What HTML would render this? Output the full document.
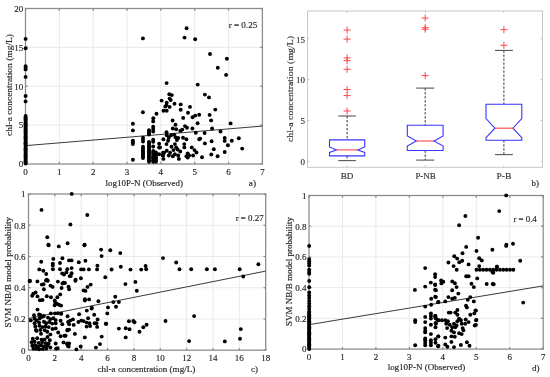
<!DOCTYPE html>
<html><head><meta charset="utf-8"><style>
html,body{margin:0;padding:0;background:#fff;width:550px;height:377px;overflow:hidden}
svg{display:block;font-family:'Liberation Serif', 'Times New Roman', serif;filter:blur(0.3px)}
</style></head><body>
<svg width="550" height="377" viewBox="0 0 550 377">
<rect width="550" height="377" fill="#fff"/>
<line x1="59.34" y1="8.5" x2="59.34" y2="164" stroke="#e4e4e4" stroke-width="0.8"/>
<line x1="93.19" y1="8.5" x2="93.19" y2="164" stroke="#e4e4e4" stroke-width="0.8"/>
<line x1="127.03" y1="8.5" x2="127.03" y2="164" stroke="#e4e4e4" stroke-width="0.8"/>
<line x1="160.87" y1="8.5" x2="160.87" y2="164" stroke="#e4e4e4" stroke-width="0.8"/>
<line x1="194.71" y1="8.5" x2="194.71" y2="164" stroke="#e4e4e4" stroke-width="0.8"/>
<line x1="228.56" y1="8.5" x2="228.56" y2="164" stroke="#e4e4e4" stroke-width="0.8"/>
<line x1="25.5" y1="125.12" x2="262.4" y2="125.12" stroke="#e4e4e4" stroke-width="0.8"/>
<line x1="25.5" y1="86.25" x2="262.4" y2="86.25" stroke="#e4e4e4" stroke-width="0.8"/>
<line x1="25.5" y1="47.38" x2="262.4" y2="47.38" stroke="#e4e4e4" stroke-width="0.8"/>
<rect x="25.5" y="8.5" width="236.9" height="155.5" fill="none" stroke="#8a8a8a" stroke-width="1.25"/>
<line x1="25.5" y1="164" x2="25.5" y2="161.8" stroke="#8a8a8a" stroke-width="1.25"/>
<line x1="25.5" y1="8.5" x2="25.5" y2="10.7" stroke="#8a8a8a" stroke-width="1.25"/>
<line x1="59.34" y1="164" x2="59.34" y2="161.8" stroke="#8a8a8a" stroke-width="1.25"/>
<line x1="59.34" y1="8.5" x2="59.34" y2="10.7" stroke="#8a8a8a" stroke-width="1.25"/>
<line x1="93.19" y1="164" x2="93.19" y2="161.8" stroke="#8a8a8a" stroke-width="1.25"/>
<line x1="93.19" y1="8.5" x2="93.19" y2="10.7" stroke="#8a8a8a" stroke-width="1.25"/>
<line x1="127.03" y1="164" x2="127.03" y2="161.8" stroke="#8a8a8a" stroke-width="1.25"/>
<line x1="127.03" y1="8.5" x2="127.03" y2="10.7" stroke="#8a8a8a" stroke-width="1.25"/>
<line x1="160.87" y1="164" x2="160.87" y2="161.8" stroke="#8a8a8a" stroke-width="1.25"/>
<line x1="160.87" y1="8.5" x2="160.87" y2="10.7" stroke="#8a8a8a" stroke-width="1.25"/>
<line x1="194.71" y1="164" x2="194.71" y2="161.8" stroke="#8a8a8a" stroke-width="1.25"/>
<line x1="194.71" y1="8.5" x2="194.71" y2="10.7" stroke="#8a8a8a" stroke-width="1.25"/>
<line x1="228.56" y1="164" x2="228.56" y2="161.8" stroke="#8a8a8a" stroke-width="1.25"/>
<line x1="228.56" y1="8.5" x2="228.56" y2="10.7" stroke="#8a8a8a" stroke-width="1.25"/>
<line x1="262.4" y1="164" x2="262.4" y2="161.8" stroke="#8a8a8a" stroke-width="1.25"/>
<line x1="262.4" y1="8.5" x2="262.4" y2="10.7" stroke="#8a8a8a" stroke-width="1.25"/>
<line x1="25.5" y1="164" x2="27.7" y2="164" stroke="#8a8a8a" stroke-width="1.25"/>
<line x1="262.4" y1="164" x2="260.2" y2="164" stroke="#8a8a8a" stroke-width="1.25"/>
<line x1="25.5" y1="125.12" x2="27.7" y2="125.12" stroke="#8a8a8a" stroke-width="1.25"/>
<line x1="262.4" y1="125.12" x2="260.2" y2="125.12" stroke="#8a8a8a" stroke-width="1.25"/>
<line x1="25.5" y1="86.25" x2="27.7" y2="86.25" stroke="#8a8a8a" stroke-width="1.25"/>
<line x1="262.4" y1="86.25" x2="260.2" y2="86.25" stroke="#8a8a8a" stroke-width="1.25"/>
<line x1="25.5" y1="47.38" x2="27.7" y2="47.38" stroke="#8a8a8a" stroke-width="1.25"/>
<line x1="262.4" y1="47.38" x2="260.2" y2="47.38" stroke="#8a8a8a" stroke-width="1.25"/>
<line x1="25.5" y1="8.5" x2="27.7" y2="8.5" stroke="#8a8a8a" stroke-width="1.25"/>
<line x1="262.4" y1="8.5" x2="260.2" y2="8.5" stroke="#8a8a8a" stroke-width="1.25"/>
<line x1="25" y1="145.7" x2="262.3" y2="126.1" stroke="#3a3a3a" stroke-width="1.0"/>
<g fill="#000"><circle cx="142.9" cy="38.4" r="1.95"/><circle cx="186.6" cy="28.3" r="1.95"/><circle cx="184.5" cy="37.6" r="1.95"/><circle cx="195.2" cy="39.2" r="1.95"/><circle cx="210" cy="54" r="1.95"/><circle cx="226.9" cy="58.8" r="1.95"/><circle cx="217.8" cy="67.8" r="1.95"/><circle cx="166.6" cy="83.1" r="1.95"/><circle cx="197.7" cy="84.6" r="1.95"/><circle cx="169.3" cy="94.2" r="1.95"/><circle cx="171.8" cy="95.1" r="1.95"/><circle cx="169.6" cy="98.6" r="1.95"/><circle cx="170.7" cy="100" r="1.95"/><circle cx="161.6" cy="100.6" r="1.95"/><circle cx="166.7" cy="102.7" r="1.95"/><circle cx="174.5" cy="103.7" r="1.95"/><circle cx="180.7" cy="104.4" r="1.95"/><circle cx="166.4" cy="105.1" r="1.95"/><circle cx="165.3" cy="106.6" r="1.95"/><circle cx="169.6" cy="106.9" r="1.95"/><circle cx="190" cy="106.9" r="1.95"/><circle cx="180.7" cy="109.8" r="1.95"/><circle cx="163.5" cy="110.7" r="1.95"/><circle cx="166.7" cy="110.8" r="1.95"/><circle cx="142.9" cy="112.2" r="1.95"/><circle cx="156.5" cy="113.8" r="1.95"/><circle cx="188" cy="112.7" r="1.95"/><circle cx="153.3" cy="118.3" r="1.95"/><circle cx="183.2" cy="117.9" r="1.95"/><circle cx="192.5" cy="117.3" r="1.95"/><circle cx="195.2" cy="115.6" r="1.95"/><circle cx="199.2" cy="114.8" r="1.95"/><circle cx="226.1" cy="74.9" r="1.95"/><circle cx="204.9" cy="94.6" r="1.95"/><circle cx="209" cy="97.4" r="1.95"/><circle cx="215.3" cy="109.6" r="1.95"/><circle cx="209.6" cy="114.9" r="1.95"/><circle cx="211.1" cy="120.4" r="1.95"/><circle cx="172.6" cy="120.5" r="1.95"/><circle cx="197.6" cy="123.2" r="1.95"/><circle cx="175.5" cy="124.7" r="1.95"/><circle cx="185" cy="126.1" r="1.95"/><circle cx="187" cy="127.8" r="1.95"/><circle cx="172.8" cy="128.5" r="1.95"/><circle cx="176.2" cy="129.2" r="1.95"/><circle cx="192.4" cy="128.5" r="1.95"/><circle cx="182.3" cy="129.6" r="1.95"/><circle cx="180.3" cy="130.9" r="1.95"/><circle cx="195.8" cy="132.8" r="1.95"/><circle cx="166.5" cy="132.3" r="1.95"/><circle cx="166.8" cy="135.3" r="1.95"/><circle cx="171.1" cy="135.3" r="1.95"/><circle cx="174.2" cy="134.6" r="1.95"/><circle cx="168.8" cy="137.7" r="1.95"/><circle cx="175.5" cy="137.3" r="1.95"/><circle cx="178.2" cy="138" r="1.95"/><circle cx="183" cy="137.7" r="1.95"/><circle cx="186.4" cy="139.3" r="1.95"/><circle cx="163.4" cy="139.3" r="1.95"/><circle cx="168.1" cy="140.7" r="1.95"/><circle cx="176.9" cy="140" r="1.95"/><circle cx="199.2" cy="139.3" r="1.95"/><circle cx="166.5" cy="144.1" r="1.95"/><circle cx="174.9" cy="144.1" r="1.95"/><circle cx="184.3" cy="144.1" r="1.95"/><circle cx="171.5" cy="146.8" r="1.95"/><circle cx="176.2" cy="147.4" r="1.95"/><circle cx="184.3" cy="147.4" r="1.95"/><circle cx="191.8" cy="147.4" r="1.95"/><circle cx="160" cy="147.4" r="1.95"/><circle cx="166.8" cy="150.8" r="1.95"/><circle cx="173.5" cy="150.1" r="1.95"/><circle cx="177.6" cy="149.5" r="1.95"/><circle cx="180.3" cy="151.5" r="1.95"/><circle cx="194.5" cy="150.1" r="1.95"/><circle cx="196.5" cy="152.5" r="1.95"/><circle cx="164.1" cy="152.8" r="1.95"/><circle cx="170.1" cy="152.8" r="1.95"/><circle cx="174.9" cy="154.2" r="1.95"/><circle cx="187.7" cy="153.5" r="1.95"/><circle cx="162.7" cy="155.5" r="1.95"/><circle cx="168.8" cy="155.5" r="1.95"/><circle cx="172.8" cy="156.2" r="1.95"/><circle cx="178.2" cy="155.5" r="1.95"/><circle cx="186.4" cy="156.2" r="1.95"/><circle cx="189.1" cy="155.5" r="1.95"/><circle cx="193.1" cy="155.5" r="1.95"/><circle cx="163.4" cy="158.9" r="1.95"/><circle cx="178.9" cy="158.9" r="1.95"/><circle cx="187.7" cy="157.6" r="1.95"/><circle cx="212.1" cy="128.5" r="1.95"/><circle cx="204.6" cy="133" r="1.95"/><circle cx="230.6" cy="123.4" r="1.95"/><circle cx="220.5" cy="131.5" r="1.95"/><circle cx="200.2" cy="138.6" r="1.95"/><circle cx="224.7" cy="137.9" r="1.95"/><circle cx="224.7" cy="140.9" r="1.95"/><circle cx="238.8" cy="138.2" r="1.95"/><circle cx="211.6" cy="141.2" r="1.95"/><circle cx="231.8" cy="140.7" r="1.95"/><circle cx="204.9" cy="143.4" r="1.95"/><circle cx="227.9" cy="145.2" r="1.95"/><circle cx="213.8" cy="149.3" r="1.95"/><circle cx="242.2" cy="148.6" r="1.95"/><circle cx="224.7" cy="152" r="1.95"/><circle cx="211.3" cy="154.5" r="1.95"/><circle cx="217.6" cy="156.3" r="1.95"/><circle cx="202" cy="157.2" r="1.95"/><circle cx="132.9" cy="123.8" r="1.95"/><circle cx="132.9" cy="130.4" r="1.95"/><circle cx="132.9" cy="140.6" r="1.95"/><circle cx="132.9" cy="142.3" r="1.95"/><circle cx="132.9" cy="144" r="1.95"/><circle cx="132.9" cy="159.8" r="1.95"/><circle cx="159.1" cy="143.7" r="1.95"/><circle cx="159.1" cy="147.5" r="1.95"/><circle cx="159.1" cy="154.3" r="1.95"/><circle cx="163" cy="152.8" r="1.95"/><circle cx="163" cy="155.5" r="1.95"/><circle cx="143" cy="137.6" r="1.95"/><circle cx="143" cy="139.6" r="1.95"/><circle cx="143" cy="141.6" r="1.95"/><circle cx="143" cy="146.8" r="1.95"/><circle cx="143" cy="148.4" r="1.95"/><circle cx="143" cy="150" r="1.95"/><circle cx="143" cy="151.6" r="1.95"/><circle cx="143" cy="153.2" r="1.95"/><circle cx="143" cy="154.8" r="1.95"/><circle cx="143" cy="156.4" r="1.95"/><circle cx="143" cy="158" r="1.95"/><circle cx="149" cy="130.2" r="1.95"/><circle cx="149" cy="131.67" r="1.95"/><circle cx="149" cy="133.13" r="1.95"/><circle cx="149" cy="134.6" r="1.95"/><circle cx="149" cy="141.9" r="1.95"/><circle cx="149" cy="143.32" r="1.95"/><circle cx="149" cy="144.74" r="1.95"/><circle cx="149" cy="146.16" r="1.95"/><circle cx="149" cy="147.59" r="1.95"/><circle cx="149" cy="149.01" r="1.95"/><circle cx="149" cy="150.43" r="1.95"/><circle cx="149" cy="151.85" r="1.95"/><circle cx="149" cy="153.27" r="1.95"/><circle cx="149" cy="154.69" r="1.95"/><circle cx="149" cy="156.11" r="1.95"/><circle cx="149" cy="157.54" r="1.95"/><circle cx="149" cy="158.96" r="1.95"/><circle cx="149" cy="160.38" r="1.95"/><circle cx="149" cy="161.8" r="1.95"/><circle cx="153.2" cy="121.4" r="1.95"/><circle cx="153.2" cy="126.8" r="1.95"/><circle cx="153.2" cy="129" r="1.95"/><circle cx="153.2" cy="131.5" r="1.95"/><circle cx="153.2" cy="139.7" r="1.95"/><circle cx="153.2" cy="141.7" r="1.95"/><circle cx="153.2" cy="146.5" r="1.95"/><circle cx="153.2" cy="151" r="1.95"/><circle cx="153.2" cy="152.54" r="1.95"/><circle cx="153.2" cy="154.09" r="1.95"/><circle cx="153.2" cy="155.63" r="1.95"/><circle cx="153.2" cy="157.17" r="1.95"/><circle cx="153.2" cy="158.71" r="1.95"/><circle cx="153.2" cy="160.26" r="1.95"/><circle cx="153.2" cy="161.8" r="1.95"/><circle cx="155.9" cy="152.5" r="1.95"/><circle cx="155.9" cy="154.05" r="1.95"/><circle cx="155.9" cy="155.6" r="1.95"/><circle cx="155.9" cy="157.15" r="1.95"/><circle cx="155.9" cy="158.7" r="1.95"/><circle cx="155.9" cy="160.25" r="1.95"/><circle cx="155.9" cy="161.8" r="1.95"/><circle cx="25.6" cy="38.9" r="1.95"/><circle cx="25.6" cy="48.2" r="1.95"/><circle cx="25.6" cy="66.3" r="1.95"/><circle cx="25.6" cy="68.1" r="1.95"/><circle cx="25.6" cy="69.4" r="1.95"/><circle cx="25.6" cy="76.9" r="1.95"/><circle cx="25.6" cy="96" r="1.95"/><circle cx="25.6" cy="101.4" r="1.95"/><circle cx="25.6" cy="116" r="1.95"/><circle cx="25.6" cy="117.19" r="1.95"/><circle cx="25.6" cy="118.38" r="1.95"/><circle cx="25.6" cy="119.57" r="1.95"/><circle cx="25.6" cy="120.76" r="1.95"/><circle cx="25.6" cy="121.95" r="1.95"/><circle cx="25.6" cy="123.14" r="1.95"/><circle cx="25.6" cy="124.33" r="1.95"/><circle cx="25.6" cy="125.52" r="1.95"/><circle cx="25.6" cy="126.71" r="1.95"/><circle cx="25.6" cy="127.9" r="1.95"/><circle cx="25.6" cy="129.09" r="1.95"/><circle cx="25.6" cy="130.28" r="1.95"/><circle cx="25.6" cy="131.47" r="1.95"/><circle cx="25.6" cy="132.66" r="1.95"/><circle cx="25.6" cy="133.85" r="1.95"/><circle cx="25.6" cy="135.04" r="1.95"/><circle cx="25.6" cy="136.23" r="1.95"/><circle cx="25.6" cy="137.42" r="1.95"/><circle cx="25.6" cy="138.61" r="1.95"/><circle cx="25.6" cy="139.8" r="1.95"/><circle cx="25.6" cy="140.99" r="1.95"/><circle cx="25.6" cy="142.18" r="1.95"/><circle cx="25.6" cy="143.37" r="1.95"/><circle cx="25.6" cy="144.56" r="1.95"/><circle cx="25.6" cy="145.75" r="1.95"/><circle cx="25.6" cy="146.94" r="1.95"/><circle cx="25.6" cy="148.13" r="1.95"/><circle cx="25.6" cy="149.32" r="1.95"/><circle cx="25.6" cy="150.51" r="1.95"/><circle cx="25.6" cy="151.7" r="1.95"/><circle cx="25.6" cy="152.89" r="1.95"/><circle cx="25.6" cy="154.08" r="1.95"/><circle cx="25.6" cy="155.27" r="1.95"/><circle cx="25.6" cy="156.46" r="1.95"/><circle cx="25.6" cy="157.65" r="1.95"/><circle cx="25.6" cy="158.84" r="1.95"/><circle cx="25.6" cy="160.03" r="1.95"/><circle cx="25.6" cy="161.22" r="1.95"/><circle cx="25.6" cy="162.41" r="1.95"/><circle cx="25.6" cy="163.6" r="1.95"/></g>
<text x="25.5" y="175" text-anchor="middle" font-size="9" fill="#262626" stroke="#262626" stroke-width="0.16">0</text>
<text x="59.34" y="175" text-anchor="middle" font-size="9" fill="#262626" stroke="#262626" stroke-width="0.16">1</text>
<text x="93.19" y="175" text-anchor="middle" font-size="9" fill="#262626" stroke="#262626" stroke-width="0.16">2</text>
<text x="127.03" y="175" text-anchor="middle" font-size="9" fill="#262626" stroke="#262626" stroke-width="0.16">3</text>
<text x="160.87" y="175" text-anchor="middle" font-size="9" fill="#262626" stroke="#262626" stroke-width="0.16">4</text>
<text x="194.71" y="175" text-anchor="middle" font-size="9" fill="#262626" stroke="#262626" stroke-width="0.16">5</text>
<text x="228.56" y="175" text-anchor="middle" font-size="9" fill="#262626" stroke="#262626" stroke-width="0.16">6</text>
<text x="262.4" y="175" text-anchor="middle" font-size="9" fill="#262626" stroke="#262626" stroke-width="0.16">7</text>
<text x="23.2" y="167.3" text-anchor="end" font-size="9" fill="#262626" stroke="#262626" stroke-width="0.16">0</text>
<text x="23.2" y="128.43" text-anchor="end" font-size="9" fill="#262626" stroke="#262626" stroke-width="0.16">5</text>
<text x="23.2" y="89.55" text-anchor="end" font-size="9" fill="#262626" stroke="#262626" stroke-width="0.16">10</text>
<text x="23.2" y="50.67" text-anchor="end" font-size="9" fill="#262626" stroke="#262626" stroke-width="0.16">15</text>
<text x="23.2" y="11.8" text-anchor="end" font-size="9" fill="#262626" stroke="#262626" stroke-width="0.16">20</text>
<text x="144.3" y="185.8" text-anchor="middle" font-size="9" fill="#262626" stroke="#262626" stroke-width="0.16" textLength="77.5" lengthAdjust="spacingAndGlyphs">log10P-N (Observed)</text>
<text x="0" y="0" text-anchor="middle" font-size="9" fill="#262626" stroke="#262626" stroke-width="0.16" textLength="102" lengthAdjust="spacingAndGlyphs" transform="translate(12.2 85) rotate(-90)">chl-a concentration (mg/L)</text>
<text x="228.7" y="27.9" text-anchor="start" font-size="9" fill="#262626" stroke="#262626" stroke-width="0.16" textLength="28.5" lengthAdjust="spacingAndGlyphs">r = 0.25</text>
<text x="248.8" y="185.9" text-anchor="start" font-size="9" fill="#262626" stroke="#262626" stroke-width="0.16" textLength="7.2" lengthAdjust="spacingAndGlyphs">a)</text>
<rect x="307.5" y="11" width="235.0" height="156.3" fill="none" stroke="#c8c8c8" stroke-width="1"/>
<line x1="307.5" y1="161.5" x2="309.5" y2="161.5" stroke="#c8c8c8" stroke-width="1"/>
<line x1="542.5" y1="161.5" x2="540.5" y2="161.5" stroke="#c8c8c8" stroke-width="1"/>
<line x1="307.5" y1="120.56" x2="309.5" y2="120.56" stroke="#c8c8c8" stroke-width="1"/>
<line x1="542.5" y1="120.56" x2="540.5" y2="120.56" stroke="#c8c8c8" stroke-width="1"/>
<line x1="307.5" y1="79.63" x2="309.5" y2="79.63" stroke="#c8c8c8" stroke-width="1"/>
<line x1="542.5" y1="79.63" x2="540.5" y2="79.63" stroke="#c8c8c8" stroke-width="1"/>
<line x1="307.5" y1="38.7" x2="309.5" y2="38.7" stroke="#c8c8c8" stroke-width="1"/>
<line x1="542.5" y1="38.7" x2="540.5" y2="38.7" stroke="#c8c8c8" stroke-width="1"/>
<line x1="347.1" y1="167.3" x2="347.1" y2="165.3" stroke="#c8c8c8" stroke-width="1"/>
<line x1="347.1" y1="11" x2="347.1" y2="13" stroke="#c8c8c8" stroke-width="1"/>
<line x1="425.2" y1="167.3" x2="425.2" y2="165.3" stroke="#c8c8c8" stroke-width="1"/>
<line x1="425.2" y1="11" x2="425.2" y2="13" stroke="#c8c8c8" stroke-width="1"/>
<line x1="503.8" y1="167.3" x2="503.8" y2="165.3" stroke="#c8c8c8" stroke-width="1"/>
<line x1="503.8" y1="11" x2="503.8" y2="13" stroke="#c8c8c8" stroke-width="1"/>
<line x1="347.1" y1="116" x2="347.1" y2="139.9" stroke="#333" stroke-width="1" stroke-dasharray="2.4 1.6"/>
<line x1="347.1" y1="155.9" x2="347.1" y2="160.6" stroke="#333" stroke-width="1" stroke-dasharray="2.4 1.6"/>
<line x1="338.3" y1="116" x2="355.9" y2="116" stroke="#555" stroke-width="1.1"/>
<line x1="338.3" y1="160.6" x2="355.9" y2="160.6" stroke="#555" stroke-width="1.1"/>
<polygon points="329.5,139.9 364.7,139.9 364.7,147 357.7,149.9 364.7,152.5 364.7,155.9 329.5,155.9 329.5,152.5 336.5,149.9 329.5,147" fill="none" stroke="#3535ff" stroke-width="1.1"/>
<line x1="336.5" y1="149.9" x2="357.7" y2="149.9" stroke="#ff4848" stroke-width="1.1"/>
<line x1="343.6" y1="30.1" x2="350.6" y2="30.1" stroke="#ff4848" stroke-width="1.0"/>
<line x1="347.1" y1="26.6" x2="347.1" y2="33.6" stroke="#ff4848" stroke-width="1.0"/>
<line x1="343.6" y1="39.1" x2="350.6" y2="39.1" stroke="#ff4848" stroke-width="1.0"/>
<line x1="347.1" y1="35.6" x2="347.1" y2="42.6" stroke="#ff4848" stroke-width="1.0"/>
<line x1="343.6" y1="57.9" x2="350.6" y2="57.9" stroke="#ff4848" stroke-width="1.0"/>
<line x1="347.1" y1="54.4" x2="347.1" y2="61.4" stroke="#ff4848" stroke-width="1.0"/>
<line x1="343.6" y1="60.6" x2="350.6" y2="60.6" stroke="#ff4848" stroke-width="1.0"/>
<line x1="347.1" y1="57.1" x2="347.1" y2="64.1" stroke="#ff4848" stroke-width="1.0"/>
<line x1="343.6" y1="69.3" x2="350.6" y2="69.3" stroke="#ff4848" stroke-width="1.0"/>
<line x1="347.1" y1="65.8" x2="347.1" y2="72.8" stroke="#ff4848" stroke-width="1.0"/>
<line x1="343.6" y1="89.5" x2="350.6" y2="89.5" stroke="#ff4848" stroke-width="1.0"/>
<line x1="347.1" y1="86" x2="347.1" y2="93" stroke="#ff4848" stroke-width="1.0"/>
<line x1="343.6" y1="95.6" x2="350.6" y2="95.6" stroke="#ff4848" stroke-width="1.0"/>
<line x1="347.1" y1="92.1" x2="347.1" y2="99.1" stroke="#ff4848" stroke-width="1.0"/>
<line x1="343.6" y1="111" x2="350.6" y2="111" stroke="#ff4848" stroke-width="1.0"/>
<line x1="347.1" y1="107.5" x2="347.1" y2="114.5" stroke="#ff4848" stroke-width="1.0"/>
<line x1="425.2" y1="88.1" x2="425.2" y2="125.3" stroke="#333" stroke-width="1" stroke-dasharray="2.4 1.6"/>
<line x1="425.2" y1="150.5" x2="425.2" y2="160.1" stroke="#333" stroke-width="1" stroke-dasharray="2.4 1.6"/>
<line x1="416.25" y1="88.1" x2="434.15" y2="88.1" stroke="#555" stroke-width="1.1"/>
<line x1="416.25" y1="160.1" x2="434.15" y2="160.1" stroke="#555" stroke-width="1.1"/>
<polygon points="407.3,125.3 443.1,125.3 443.1,135.9 434,141 443.1,146 443.1,150.5 407.3,150.5 407.3,146 416.4,141 407.3,135.9" fill="none" stroke="#3535ff" stroke-width="1.1"/>
<line x1="416.4" y1="141" x2="434" y2="141" stroke="#ff4848" stroke-width="1.1"/>
<line x1="421.7" y1="18.1" x2="428.7" y2="18.1" stroke="#ff4848" stroke-width="1.0"/>
<line x1="425.2" y1="14.6" x2="425.2" y2="21.6" stroke="#ff4848" stroke-width="1.0"/>
<line x1="421.7" y1="27.7" x2="428.7" y2="27.7" stroke="#ff4848" stroke-width="1.0"/>
<line x1="425.2" y1="24.2" x2="425.2" y2="31.2" stroke="#ff4848" stroke-width="1.0"/>
<line x1="421.7" y1="29.2" x2="428.7" y2="29.2" stroke="#ff4848" stroke-width="1.0"/>
<line x1="425.2" y1="25.7" x2="425.2" y2="32.7" stroke="#ff4848" stroke-width="1.0"/>
<line x1="421.7" y1="75.6" x2="428.7" y2="75.6" stroke="#ff4848" stroke-width="1.0"/>
<line x1="425.2" y1="72.1" x2="425.2" y2="79.1" stroke="#ff4848" stroke-width="1.0"/>
<line x1="503.9" y1="50.4" x2="503.9" y2="104.3" stroke="#333" stroke-width="1" stroke-dasharray="2.4 1.6"/>
<line x1="503.9" y1="140.2" x2="503.9" y2="154.6" stroke="#333" stroke-width="1" stroke-dasharray="2.4 1.6"/>
<line x1="494.95" y1="50.4" x2="512.85" y2="50.4" stroke="#555" stroke-width="1.1"/>
<line x1="494.95" y1="154.6" x2="512.85" y2="154.6" stroke="#555" stroke-width="1.1"/>
<polygon points="486,104.3 521.8,104.3 521.8,118.5 512.9,128.2 521.8,137.6 521.8,140.2 486,140.2 486,137.6 494.9,128.2 486,118.5" fill="none" stroke="#3535ff" stroke-width="1.1"/>
<line x1="494.9" y1="128.2" x2="512.9" y2="128.2" stroke="#ff4848" stroke-width="1.1"/>
<line x1="500.4" y1="29.7" x2="507.4" y2="29.7" stroke="#ff4848" stroke-width="1.0"/>
<line x1="503.9" y1="26.2" x2="503.9" y2="33.2" stroke="#ff4848" stroke-width="1.0"/>
<line x1="500.4" y1="45.3" x2="507.4" y2="45.3" stroke="#ff4848" stroke-width="1.0"/>
<line x1="503.9" y1="41.8" x2="503.9" y2="48.8" stroke="#ff4848" stroke-width="1.0"/>
<text x="304.9" y="165.3" text-anchor="end" font-size="9" fill="#333" stroke="#333" stroke-width="0.16">0</text>
<text x="304.9" y="124.36" text-anchor="end" font-size="9" fill="#333" stroke="#333" stroke-width="0.16">5</text>
<text x="304.9" y="83.43" text-anchor="end" font-size="9" fill="#333" stroke="#333" stroke-width="0.16">10</text>
<text x="304.9" y="42.5" text-anchor="end" font-size="9" fill="#333" stroke="#333" stroke-width="0.16">15</text>
<text x="347" y="179.1" text-anchor="middle" font-size="9" fill="#333" stroke="#333" stroke-width="0.16" textLength="12.7" lengthAdjust="spacingAndGlyphs">BD</text>
<text x="425.6" y="179.1" text-anchor="middle" font-size="9" fill="#333" stroke="#333" stroke-width="0.16" textLength="20.4" lengthAdjust="spacingAndGlyphs">P-NB</text>
<text x="504" y="179.1" text-anchor="middle" font-size="9" fill="#333" stroke="#333" stroke-width="0.16" textLength="15" lengthAdjust="spacingAndGlyphs">P-B</text>
<text x="0" y="0" text-anchor="middle" font-size="9" fill="#333" stroke="#333" stroke-width="0.16" textLength="106" lengthAdjust="spacingAndGlyphs" transform="translate(292.8 89) rotate(-90)">chl-a concentration (mg/L)</text>
<text x="531.6" y="185.5" text-anchor="start" font-size="9" fill="#262626" stroke="#262626" stroke-width="0.16" textLength="7.4" lengthAdjust="spacingAndGlyphs">b)</text>
<line x1="54.86" y1="194" x2="54.86" y2="350.2" stroke="#e4e4e4" stroke-width="0.8"/>
<line x1="81.21" y1="194" x2="81.21" y2="350.2" stroke="#e4e4e4" stroke-width="0.8"/>
<line x1="107.57" y1="194" x2="107.57" y2="350.2" stroke="#e4e4e4" stroke-width="0.8"/>
<line x1="133.92" y1="194" x2="133.92" y2="350.2" stroke="#e4e4e4" stroke-width="0.8"/>
<line x1="160.28" y1="194" x2="160.28" y2="350.2" stroke="#e4e4e4" stroke-width="0.8"/>
<line x1="186.63" y1="194" x2="186.63" y2="350.2" stroke="#e4e4e4" stroke-width="0.8"/>
<line x1="212.99" y1="194" x2="212.99" y2="350.2" stroke="#e4e4e4" stroke-width="0.8"/>
<line x1="239.34" y1="194" x2="239.34" y2="350.2" stroke="#e4e4e4" stroke-width="0.8"/>
<line x1="28.5" y1="318.96" x2="265.7" y2="318.96" stroke="#e4e4e4" stroke-width="0.8"/>
<line x1="28.5" y1="287.72" x2="265.7" y2="287.72" stroke="#e4e4e4" stroke-width="0.8"/>
<line x1="28.5" y1="256.48" x2="265.7" y2="256.48" stroke="#e4e4e4" stroke-width="0.8"/>
<line x1="28.5" y1="225.24" x2="265.7" y2="225.24" stroke="#e4e4e4" stroke-width="0.8"/>
<rect x="28.5" y="194" width="237.2" height="156.2" fill="none" stroke="#8a8a8a" stroke-width="1.25"/>
<line x1="28.5" y1="350.2" x2="28.5" y2="348" stroke="#8a8a8a" stroke-width="1.25"/>
<line x1="28.5" y1="194" x2="28.5" y2="196.2" stroke="#8a8a8a" stroke-width="1.25"/>
<line x1="54.86" y1="350.2" x2="54.86" y2="348" stroke="#8a8a8a" stroke-width="1.25"/>
<line x1="54.86" y1="194" x2="54.86" y2="196.2" stroke="#8a8a8a" stroke-width="1.25"/>
<line x1="81.21" y1="350.2" x2="81.21" y2="348" stroke="#8a8a8a" stroke-width="1.25"/>
<line x1="81.21" y1="194" x2="81.21" y2="196.2" stroke="#8a8a8a" stroke-width="1.25"/>
<line x1="107.57" y1="350.2" x2="107.57" y2="348" stroke="#8a8a8a" stroke-width="1.25"/>
<line x1="107.57" y1="194" x2="107.57" y2="196.2" stroke="#8a8a8a" stroke-width="1.25"/>
<line x1="133.92" y1="350.2" x2="133.92" y2="348" stroke="#8a8a8a" stroke-width="1.25"/>
<line x1="133.92" y1="194" x2="133.92" y2="196.2" stroke="#8a8a8a" stroke-width="1.25"/>
<line x1="160.28" y1="350.2" x2="160.28" y2="348" stroke="#8a8a8a" stroke-width="1.25"/>
<line x1="160.28" y1="194" x2="160.28" y2="196.2" stroke="#8a8a8a" stroke-width="1.25"/>
<line x1="186.63" y1="350.2" x2="186.63" y2="348" stroke="#8a8a8a" stroke-width="1.25"/>
<line x1="186.63" y1="194" x2="186.63" y2="196.2" stroke="#8a8a8a" stroke-width="1.25"/>
<line x1="212.99" y1="350.2" x2="212.99" y2="348" stroke="#8a8a8a" stroke-width="1.25"/>
<line x1="212.99" y1="194" x2="212.99" y2="196.2" stroke="#8a8a8a" stroke-width="1.25"/>
<line x1="239.34" y1="350.2" x2="239.34" y2="348" stroke="#8a8a8a" stroke-width="1.25"/>
<line x1="239.34" y1="194" x2="239.34" y2="196.2" stroke="#8a8a8a" stroke-width="1.25"/>
<line x1="265.7" y1="350.2" x2="265.7" y2="348" stroke="#8a8a8a" stroke-width="1.25"/>
<line x1="265.7" y1="194" x2="265.7" y2="196.2" stroke="#8a8a8a" stroke-width="1.25"/>
<line x1="28.5" y1="350.2" x2="30.7" y2="350.2" stroke="#8a8a8a" stroke-width="1.25"/>
<line x1="265.7" y1="350.2" x2="263.5" y2="350.2" stroke="#8a8a8a" stroke-width="1.25"/>
<line x1="28.5" y1="318.96" x2="30.7" y2="318.96" stroke="#8a8a8a" stroke-width="1.25"/>
<line x1="265.7" y1="318.96" x2="263.5" y2="318.96" stroke="#8a8a8a" stroke-width="1.25"/>
<line x1="28.5" y1="287.72" x2="30.7" y2="287.72" stroke="#8a8a8a" stroke-width="1.25"/>
<line x1="265.7" y1="287.72" x2="263.5" y2="287.72" stroke="#8a8a8a" stroke-width="1.25"/>
<line x1="28.5" y1="256.48" x2="30.7" y2="256.48" stroke="#8a8a8a" stroke-width="1.25"/>
<line x1="265.7" y1="256.48" x2="263.5" y2="256.48" stroke="#8a8a8a" stroke-width="1.25"/>
<line x1="28.5" y1="225.24" x2="30.7" y2="225.24" stroke="#8a8a8a" stroke-width="1.25"/>
<line x1="265.7" y1="225.24" x2="263.5" y2="225.24" stroke="#8a8a8a" stroke-width="1.25"/>
<line x1="28.5" y1="194" x2="30.7" y2="194" stroke="#8a8a8a" stroke-width="1.25"/>
<line x1="265.7" y1="194" x2="263.5" y2="194" stroke="#8a8a8a" stroke-width="1.25"/>
<line x1="28" y1="318.5" x2="265.7" y2="271.1" stroke="#3a3a3a" stroke-width="1.0"/>
<g fill="#000"><circle cx="71.7" cy="193.9" r="1.95"/><circle cx="41.5" cy="209.9" r="1.95"/><circle cx="87.3" cy="215" r="1.95"/><circle cx="70.4" cy="224.5" r="1.95"/><circle cx="47.3" cy="237.2" r="1.95"/><circle cx="48.4" cy="244.7" r="1.95"/><circle cx="67.6" cy="243.3" r="1.95"/><circle cx="84.6" cy="244.7" r="1.95"/><circle cx="48.6" cy="245.3" r="1.95"/><circle cx="58.8" cy="246.4" r="1.95"/><circle cx="53.3" cy="258.9" r="1.95"/><circle cx="62.4" cy="258.3" r="1.95"/><circle cx="41.2" cy="261.8" r="1.95"/><circle cx="60" cy="263" r="1.95"/><circle cx="52.8" cy="263.6" r="1.95"/><circle cx="52.8" cy="265.5" r="1.95"/><circle cx="69" cy="260.4" r="1.95"/><circle cx="39.3" cy="269.4" r="1.95"/><circle cx="43.3" cy="270.8" r="1.95"/><circle cx="52.9" cy="269.2" r="1.95"/><circle cx="60" cy="269.2" r="1.95"/><circle cx="67.3" cy="269.2" r="1.95"/><circle cx="46.2" cy="274" r="1.95"/><circle cx="62.2" cy="273.4" r="1.95"/><circle cx="64" cy="274.5" r="1.95"/><circle cx="66.4" cy="272.4" r="1.95"/><circle cx="69.6" cy="276.1" r="1.95"/><circle cx="46.8" cy="279.8" r="1.95"/><circle cx="84.4" cy="245.3" r="1.95"/><circle cx="101.1" cy="249.6" r="1.95"/><circle cx="101.6" cy="256.1" r="1.95"/><circle cx="71.6" cy="260.4" r="1.95"/><circle cx="78.8" cy="262.3" r="1.95"/><circle cx="85.4" cy="260.7" r="1.95"/><circle cx="97.4" cy="265.8" r="1.95"/><circle cx="71.6" cy="268.1" r="1.95"/><circle cx="81.1" cy="269.4" r="1.95"/><circle cx="83.6" cy="269.4" r="1.95"/><circle cx="88.9" cy="269.4" r="1.95"/><circle cx="97.1" cy="269.4" r="1.95"/><circle cx="71.6" cy="273.2" r="1.95"/><circle cx="70.8" cy="276.1" r="1.95"/><circle cx="80.9" cy="278.2" r="1.95"/><circle cx="75.6" cy="279.8" r="1.95"/><circle cx="105.3" cy="277.2" r="1.95"/><circle cx="110.3" cy="250.2" r="1.95"/><circle cx="120.3" cy="253.1" r="1.95"/><circle cx="163" cy="258.1" r="1.95"/><circle cx="176.2" cy="262.5" r="1.95"/><circle cx="179.5" cy="269.2" r="1.95"/><circle cx="111.6" cy="269.5" r="1.95"/><circle cx="120.8" cy="266.7" r="1.95"/><circle cx="130.5" cy="269.6" r="1.95"/><circle cx="141.2" cy="269.6" r="1.95"/><circle cx="145.6" cy="266" r="1.95"/><circle cx="146.2" cy="269.2" r="1.95"/><circle cx="125.4" cy="284.1" r="1.95"/><circle cx="135.4" cy="281.9" r="1.95"/><circle cx="136.8" cy="290.7" r="1.95"/><circle cx="191.2" cy="269.3" r="1.95"/><circle cx="206.9" cy="269.3" r="1.95"/><circle cx="214.9" cy="269.3" r="1.95"/><circle cx="239.7" cy="269.3" r="1.95"/><circle cx="258.4" cy="264.3" r="1.95"/><circle cx="243.2" cy="276.5" r="1.95"/><circle cx="29.8" cy="281.2" r="1.95"/><circle cx="37.4" cy="281.4" r="1.95"/><circle cx="46" cy="280.5" r="1.95"/><circle cx="47.8" cy="280.8" r="1.95"/><circle cx="41.8" cy="284.6" r="1.95"/><circle cx="43.6" cy="284.3" r="1.95"/><circle cx="50.5" cy="285.6" r="1.95"/><circle cx="52.6" cy="286.9" r="1.95"/><circle cx="57.9" cy="281.6" r="1.95"/><circle cx="62.4" cy="283.5" r="1.95"/><circle cx="63.7" cy="282.6" r="1.95"/><circle cx="61.6" cy="288" r="1.95"/><circle cx="68.5" cy="286.7" r="1.95"/><circle cx="69.1" cy="289.3" r="1.95"/><circle cx="43.9" cy="289.3" r="1.95"/><circle cx="35.6" cy="292.5" r="1.95"/><circle cx="32.2" cy="295.7" r="1.95"/><circle cx="37.5" cy="296.4" r="1.95"/><circle cx="46.8" cy="296.2" r="1.95"/><circle cx="51" cy="297.3" r="1.95"/><circle cx="57.4" cy="297.3" r="1.95"/><circle cx="60.2" cy="294.4" r="1.95"/><circle cx="39.9" cy="300.2" r="1.95"/><circle cx="42.5" cy="300" r="1.95"/><circle cx="54.7" cy="300.5" r="1.95"/><circle cx="55.3" cy="302.6" r="1.95"/><circle cx="56.8" cy="303.7" r="1.95"/><circle cx="54.7" cy="305.3" r="1.95"/><circle cx="59" cy="304.7" r="1.95"/><circle cx="61.1" cy="305.6" r="1.95"/><circle cx="57.9" cy="313.2" r="1.95"/><circle cx="61.1" cy="313.7" r="1.95"/><circle cx="75.4" cy="280.8" r="1.95"/><circle cx="90.7" cy="284.6" r="1.95"/><circle cx="87.5" cy="286.9" r="1.95"/><circle cx="65" cy="283" r="1.95"/><circle cx="83.6" cy="290.4" r="1.95"/><circle cx="85.5" cy="290.9" r="1.95"/><circle cx="84.9" cy="299.2" r="1.95"/><circle cx="84.9" cy="300.5" r="1.95"/><circle cx="89.1" cy="299.4" r="1.95"/><circle cx="98.4" cy="301.3" r="1.95"/><circle cx="91.8" cy="307.7" r="1.95"/><circle cx="86.8" cy="310.6" r="1.95"/><circle cx="108" cy="307.4" r="1.95"/><circle cx="79.1" cy="314.3" r="1.95"/><circle cx="94.2" cy="314.8" r="1.95"/><circle cx="107.3" cy="313.4" r="1.95"/><circle cx="91.6" cy="308.6" r="1.95"/><circle cx="115.3" cy="296.8" r="1.95"/><circle cx="113.3" cy="302.1" r="1.95"/><circle cx="118.9" cy="302.1" r="1.95"/><circle cx="116" cy="306.8" r="1.95"/><circle cx="106.2" cy="323.7" r="1.95"/><circle cx="128.9" cy="321.2" r="1.95"/><circle cx="133.3" cy="321" r="1.95"/><circle cx="134.5" cy="322.2" r="1.95"/><circle cx="118.9" cy="328.6" r="1.95"/><circle cx="125.7" cy="328.3" r="1.95"/><circle cx="129.5" cy="329.3" r="1.95"/><circle cx="139.5" cy="331.8" r="1.95"/><circle cx="143.3" cy="327.2" r="1.95"/><circle cx="146.6" cy="324.8" r="1.95"/><circle cx="125.7" cy="337.4" r="1.95"/><circle cx="165.5" cy="321" r="1.95"/><circle cx="194.1" cy="316.1" r="1.95"/><circle cx="189.1" cy="341.1" r="1.95"/><circle cx="224.8" cy="341.4" r="1.95"/><circle cx="240.8" cy="329.1" r="1.95"/><circle cx="240" cy="338.7" r="1.95"/><circle cx="61.2" cy="313.6" r="1.95"/><circle cx="67.6" cy="316.2" r="1.95"/><circle cx="60.6" cy="320.8" r="1.95"/><circle cx="62.3" cy="324.3" r="1.95"/><circle cx="68.1" cy="322" r="1.95"/><circle cx="67.6" cy="329.6" r="1.95"/><circle cx="58.2" cy="332.5" r="1.95"/><circle cx="60.6" cy="336.2" r="1.95"/><circle cx="64.4" cy="335.7" r="1.95"/><circle cx="63.5" cy="342.4" r="1.95"/><circle cx="67" cy="344.1" r="1.95"/><circle cx="68.7" cy="346.5" r="1.95"/><circle cx="57.7" cy="348.2" r="1.95"/><circle cx="70.2" cy="320.6" r="1.95"/><circle cx="72.9" cy="319.4" r="1.95"/><circle cx="69.1" cy="324.3" r="1.95"/><circle cx="73.7" cy="324.9" r="1.95"/><circle cx="78.4" cy="322" r="1.95"/><circle cx="81.3" cy="320.6" r="1.95"/><circle cx="83.6" cy="321.1" r="1.95"/><circle cx="86.6" cy="322.6" r="1.95"/><circle cx="88.1" cy="318.3" r="1.95"/><circle cx="89.5" cy="323.2" r="1.95"/><circle cx="86.6" cy="326.6" r="1.95"/><circle cx="90.1" cy="326.1" r="1.95"/><circle cx="94.7" cy="323.2" r="1.95"/><circle cx="97.6" cy="319.4" r="1.95"/><circle cx="96.5" cy="323.2" r="1.95"/><circle cx="97.1" cy="326.9" r="1.95"/><circle cx="105.8" cy="323.7" r="1.95"/><circle cx="69.1" cy="329.6" r="1.95"/><circle cx="67.3" cy="330.4" r="1.95"/><circle cx="74.9" cy="333.9" r="1.95"/><circle cx="65.6" cy="335.7" r="1.95"/><circle cx="84.8" cy="337.4" r="1.95"/><circle cx="101.7" cy="336.6" r="1.95"/><circle cx="67.3" cy="343.5" r="1.95"/><circle cx="69.1" cy="343.5" r="1.95"/><circle cx="67.9" cy="345.9" r="1.95"/><circle cx="100" cy="344.1" r="1.95"/><circle cx="80.7" cy="346.5" r="1.95"/><circle cx="95.9" cy="347.6" r="1.95"/><circle cx="76.4" cy="349.4" r="1.95"/><circle cx="29.8" cy="280.7" r="1.95"/><circle cx="33.3" cy="293.8" r="1.95"/><circle cx="37.5" cy="309.6" r="1.95"/><circle cx="34" cy="315.3" r="1.95"/><circle cx="39.1" cy="314.4" r="1.95"/><circle cx="40.7" cy="315.3" r="1.95"/><circle cx="43.9" cy="316" r="1.95"/><circle cx="50.9" cy="313.4" r="1.95"/><circle cx="55" cy="313.4" r="1.95"/><circle cx="30.8" cy="320.4" r="1.95"/><circle cx="34.6" cy="318.8" r="1.95"/><circle cx="36.6" cy="320.4" r="1.95"/><circle cx="39.7" cy="318.5" r="1.95"/><circle cx="42" cy="316.9" r="1.95"/><circle cx="48" cy="317.6" r="1.95"/><circle cx="50.6" cy="319.1" r="1.95"/><circle cx="53.4" cy="318.2" r="1.95"/><circle cx="55.7" cy="320.1" r="1.95"/><circle cx="34.6" cy="323.3" r="1.95"/><circle cx="39.1" cy="322.6" r="1.95"/><circle cx="43.9" cy="321.7" r="1.95"/><circle cx="46.1" cy="323.3" r="1.95"/><circle cx="49.3" cy="322" r="1.95"/><circle cx="52.2" cy="323.6" r="1.95"/><circle cx="55.7" cy="323.3" r="1.95"/><circle cx="35.3" cy="326.5" r="1.95"/><circle cx="39.4" cy="325.8" r="1.95"/><circle cx="42.3" cy="327.1" r="1.95"/><circle cx="45.5" cy="326.5" r="1.95"/><circle cx="48.7" cy="327.1" r="1.95"/><circle cx="52.5" cy="329" r="1.95"/><circle cx="55.7" cy="328.4" r="1.95"/><circle cx="35.9" cy="330" r="1.95"/><circle cx="40.4" cy="330" r="1.95"/><circle cx="44.8" cy="330.3" r="1.95"/><circle cx="36.6" cy="330.9" r="1.95"/><circle cx="41" cy="333.8" r="1.95"/><circle cx="47.2" cy="331.8" r="1.95"/><circle cx="50.4" cy="334.4" r="1.95"/><circle cx="47.5" cy="337" r="1.95"/><circle cx="32.8" cy="338.8" r="1.95"/><circle cx="37.2" cy="338.2" r="1.95"/><circle cx="41.6" cy="339.6" r="1.95"/><circle cx="44.5" cy="339.4" r="1.95"/><circle cx="49.8" cy="340.2" r="1.95"/><circle cx="31.7" cy="342.3" r="1.95"/><circle cx="34.6" cy="341.7" r="1.95"/><circle cx="38.7" cy="342.9" r="1.95"/><circle cx="42.2" cy="342" r="1.95"/><circle cx="45.7" cy="343.2" r="1.95"/><circle cx="48.6" cy="343.5" r="1.95"/><circle cx="32.3" cy="345.8" r="1.95"/><circle cx="35.2" cy="345.2" r="1.95"/><circle cx="38.1" cy="346.4" r="1.95"/><circle cx="41" cy="345.2" r="1.95"/><circle cx="44" cy="346.4" r="1.95"/><circle cx="47.5" cy="345.8" r="1.95"/><circle cx="50.4" cy="347.5" r="1.95"/><circle cx="33.4" cy="348.7" r="1.95"/><circle cx="36.4" cy="348.7" r="1.95"/><circle cx="39.3" cy="349.3" r="1.95"/><circle cx="42.8" cy="349" r="1.95"/><circle cx="46.3" cy="348.7" r="1.95"/><circle cx="55.7" cy="343.5" r="1.95"/><circle cx="56.2" cy="348.7" r="1.95"/></g>
<text x="28.5" y="360.8" text-anchor="middle" font-size="9" fill="#262626" stroke="#262626" stroke-width="0.16">0</text>
<text x="54.86" y="360.8" text-anchor="middle" font-size="9" fill="#262626" stroke="#262626" stroke-width="0.16">2</text>
<text x="81.21" y="360.8" text-anchor="middle" font-size="9" fill="#262626" stroke="#262626" stroke-width="0.16">4</text>
<text x="107.57" y="360.8" text-anchor="middle" font-size="9" fill="#262626" stroke="#262626" stroke-width="0.16">6</text>
<text x="133.92" y="360.8" text-anchor="middle" font-size="9" fill="#262626" stroke="#262626" stroke-width="0.16">8</text>
<text x="160.28" y="360.8" text-anchor="middle" font-size="9" fill="#262626" stroke="#262626" stroke-width="0.16">10</text>
<text x="186.63" y="360.8" text-anchor="middle" font-size="9" fill="#262626" stroke="#262626" stroke-width="0.16">12</text>
<text x="212.99" y="360.8" text-anchor="middle" font-size="9" fill="#262626" stroke="#262626" stroke-width="0.16">14</text>
<text x="239.34" y="360.8" text-anchor="middle" font-size="9" fill="#262626" stroke="#262626" stroke-width="0.16">16</text>
<text x="265.7" y="360.8" text-anchor="middle" font-size="9" fill="#262626" stroke="#262626" stroke-width="0.16">18</text>
<text x="25.6" y="353.5" text-anchor="end" font-size="9" fill="#262626" stroke="#262626" stroke-width="0.16">0</text>
<text x="25.6" y="322.26" text-anchor="end" font-size="9" fill="#262626" stroke="#262626" stroke-width="0.16">0.2</text>
<text x="25.6" y="291.02" text-anchor="end" font-size="9" fill="#262626" stroke="#262626" stroke-width="0.16">0.4</text>
<text x="25.6" y="259.78" text-anchor="end" font-size="9" fill="#262626" stroke="#262626" stroke-width="0.16">0.6</text>
<text x="25.6" y="228.54" text-anchor="end" font-size="9" fill="#262626" stroke="#262626" stroke-width="0.16">0.8</text>
<text x="25.6" y="197.3" text-anchor="end" font-size="9" fill="#262626" stroke="#262626" stroke-width="0.16">1</text>
<text x="146.4" y="371.8" text-anchor="middle" font-size="9" fill="#262626" stroke="#262626" stroke-width="0.16" textLength="97.8" lengthAdjust="spacingAndGlyphs">chl-a concentration (mg/L)</text>
<text x="0" y="0" text-anchor="middle" font-size="9" fill="#262626" stroke="#262626" stroke-width="0.16" textLength="110.7" lengthAdjust="spacingAndGlyphs" transform="translate(11.2 272.2) rotate(-90)">SVM NB/B model probability</text>
<text x="235.7" y="221.2" text-anchor="start" font-size="9" fill="#262626" stroke="#262626" stroke-width="0.16" textLength="28" lengthAdjust="spacingAndGlyphs">r = 0.27</text>
<text x="251" y="372.3" text-anchor="start" font-size="9" fill="#262626" stroke="#262626" stroke-width="0.16" textLength="6.8" lengthAdjust="spacingAndGlyphs">c)</text>
<line x1="342.46" y1="195.5" x2="342.46" y2="349.1" stroke="#e4e4e4" stroke-width="0.8"/>
<line x1="375.91" y1="195.5" x2="375.91" y2="349.1" stroke="#e4e4e4" stroke-width="0.8"/>
<line x1="409.37" y1="195.5" x2="409.37" y2="349.1" stroke="#e4e4e4" stroke-width="0.8"/>
<line x1="442.83" y1="195.5" x2="442.83" y2="349.1" stroke="#e4e4e4" stroke-width="0.8"/>
<line x1="476.29" y1="195.5" x2="476.29" y2="349.1" stroke="#e4e4e4" stroke-width="0.8"/>
<line x1="509.74" y1="195.5" x2="509.74" y2="349.1" stroke="#e4e4e4" stroke-width="0.8"/>
<line x1="309" y1="318.38" x2="543.2" y2="318.38" stroke="#e4e4e4" stroke-width="0.8"/>
<line x1="309" y1="287.66" x2="543.2" y2="287.66" stroke="#e4e4e4" stroke-width="0.8"/>
<line x1="309" y1="256.94" x2="543.2" y2="256.94" stroke="#e4e4e4" stroke-width="0.8"/>
<line x1="309" y1="226.22" x2="543.2" y2="226.22" stroke="#e4e4e4" stroke-width="0.8"/>
<rect x="309" y="195.5" width="234.2" height="153.6" fill="none" stroke="#8a8a8a" stroke-width="1.25"/>
<line x1="309" y1="349.1" x2="309" y2="346.9" stroke="#8a8a8a" stroke-width="1.25"/>
<line x1="309" y1="195.5" x2="309" y2="197.7" stroke="#8a8a8a" stroke-width="1.25"/>
<line x1="342.46" y1="349.1" x2="342.46" y2="346.9" stroke="#8a8a8a" stroke-width="1.25"/>
<line x1="342.46" y1="195.5" x2="342.46" y2="197.7" stroke="#8a8a8a" stroke-width="1.25"/>
<line x1="375.91" y1="349.1" x2="375.91" y2="346.9" stroke="#8a8a8a" stroke-width="1.25"/>
<line x1="375.91" y1="195.5" x2="375.91" y2="197.7" stroke="#8a8a8a" stroke-width="1.25"/>
<line x1="409.37" y1="349.1" x2="409.37" y2="346.9" stroke="#8a8a8a" stroke-width="1.25"/>
<line x1="409.37" y1="195.5" x2="409.37" y2="197.7" stroke="#8a8a8a" stroke-width="1.25"/>
<line x1="442.83" y1="349.1" x2="442.83" y2="346.9" stroke="#8a8a8a" stroke-width="1.25"/>
<line x1="442.83" y1="195.5" x2="442.83" y2="197.7" stroke="#8a8a8a" stroke-width="1.25"/>
<line x1="476.29" y1="349.1" x2="476.29" y2="346.9" stroke="#8a8a8a" stroke-width="1.25"/>
<line x1="476.29" y1="195.5" x2="476.29" y2="197.7" stroke="#8a8a8a" stroke-width="1.25"/>
<line x1="509.74" y1="349.1" x2="509.74" y2="346.9" stroke="#8a8a8a" stroke-width="1.25"/>
<line x1="509.74" y1="195.5" x2="509.74" y2="197.7" stroke="#8a8a8a" stroke-width="1.25"/>
<line x1="543.2" y1="349.1" x2="543.2" y2="346.9" stroke="#8a8a8a" stroke-width="1.25"/>
<line x1="543.2" y1="195.5" x2="543.2" y2="197.7" stroke="#8a8a8a" stroke-width="1.25"/>
<line x1="309" y1="349.1" x2="311.2" y2="349.1" stroke="#8a8a8a" stroke-width="1.25"/>
<line x1="543.2" y1="349.1" x2="541" y2="349.1" stroke="#8a8a8a" stroke-width="1.25"/>
<line x1="309" y1="318.38" x2="311.2" y2="318.38" stroke="#8a8a8a" stroke-width="1.25"/>
<line x1="543.2" y1="318.38" x2="541" y2="318.38" stroke="#8a8a8a" stroke-width="1.25"/>
<line x1="309" y1="287.66" x2="311.2" y2="287.66" stroke="#8a8a8a" stroke-width="1.25"/>
<line x1="543.2" y1="287.66" x2="541" y2="287.66" stroke="#8a8a8a" stroke-width="1.25"/>
<line x1="309" y1="256.94" x2="311.2" y2="256.94" stroke="#8a8a8a" stroke-width="1.25"/>
<line x1="543.2" y1="256.94" x2="541" y2="256.94" stroke="#8a8a8a" stroke-width="1.25"/>
<line x1="309" y1="226.22" x2="311.2" y2="226.22" stroke="#8a8a8a" stroke-width="1.25"/>
<line x1="543.2" y1="226.22" x2="541" y2="226.22" stroke="#8a8a8a" stroke-width="1.25"/>
<line x1="309" y1="195.5" x2="311.2" y2="195.5" stroke="#8a8a8a" stroke-width="1.25"/>
<line x1="543.2" y1="195.5" x2="541" y2="195.5" stroke="#8a8a8a" stroke-width="1.25"/>
<line x1="309" y1="324.7" x2="543.2" y2="285.9" stroke="#3a3a3a" stroke-width="1.0"/>
<g fill="#000"><circle cx="465.4" cy="216" r="1.95"/><circle cx="459.1" cy="225.3" r="1.95"/><circle cx="478.1" cy="237.8" r="1.95"/><circle cx="506.2" cy="195.4" r="1.95"/><circle cx="499.2" cy="211.1" r="1.95"/><circle cx="506.4" cy="244.7" r="1.95"/><circle cx="513" cy="243.8" r="1.95"/><circle cx="425.2" cy="268.1" r="1.95"/><circle cx="448.4" cy="262.5" r="1.95"/><circle cx="435.1" cy="274.2" r="1.95"/><circle cx="435.1" cy="277.1" r="1.95"/><circle cx="441.1" cy="280.4" r="1.95"/><circle cx="443.3" cy="281.7" r="1.95"/><circle cx="441.4" cy="283.4" r="1.95"/><circle cx="430.8" cy="282.6" r="1.95"/><circle cx="435.1" cy="284.4" r="1.95"/><circle cx="425.2" cy="286.6" r="1.95"/><circle cx="414.9" cy="289.9" r="1.95"/><circle cx="435.1" cy="289.7" r="1.95"/><circle cx="466.2" cy="246.9" r="1.95"/><circle cx="476.5" cy="250.9" r="1.95"/><circle cx="492.4" cy="249.8" r="1.95"/><circle cx="462.5" cy="253.3" r="1.95"/><circle cx="454.3" cy="256.2" r="1.95"/><circle cx="457.2" cy="258.6" r="1.95"/><circle cx="479.2" cy="258.2" r="1.95"/><circle cx="481.8" cy="260.4" r="1.95"/><circle cx="459.3" cy="262.2" r="1.95"/><circle cx="462.2" cy="260.8" r="1.95"/><circle cx="468.6" cy="264.4" r="1.95"/><circle cx="453.6" cy="266.1" r="1.95"/><circle cx="456.7" cy="269.7" r="1.95"/><circle cx="479.2" cy="266.1" r="1.95"/><circle cx="493.3" cy="272.7" r="1.95"/><circle cx="496.7" cy="266.8" r="1.95"/><circle cx="466.2" cy="276.3" r="1.95"/><circle cx="468.6" cy="276.3" r="1.95"/><circle cx="477.2" cy="278.4" r="1.95"/><circle cx="452.3" cy="281.4" r="1.95"/><circle cx="454.9" cy="283.3" r="1.95"/><circle cx="471.5" cy="283.7" r="1.95"/><circle cx="486.7" cy="284" r="1.95"/><circle cx="492.7" cy="284" r="1.95"/><circle cx="506.2" cy="245.9" r="1.95"/><circle cx="520.2" cy="260.8" r="1.95"/><circle cx="493.7" cy="284.3" r="1.95"/><circle cx="435.2" cy="285" r="1.95"/><circle cx="431.2" cy="298.8" r="1.95"/><circle cx="435.2" cy="296.7" r="1.95"/><circle cx="438.1" cy="302.2" r="1.95"/><circle cx="431.2" cy="304.8" r="1.95"/><circle cx="425.2" cy="306.6" r="1.95"/><circle cx="415.2" cy="320.3" r="1.95"/><circle cx="415.2" cy="322.1" r="1.95"/><circle cx="415.2" cy="345.3" r="1.95"/><circle cx="425.2" cy="316.9" r="1.95"/><circle cx="425.2" cy="322.1" r="1.95"/><circle cx="425.2" cy="328.1" r="1.95"/><circle cx="425.2" cy="330.7" r="1.95"/><circle cx="425.2" cy="332.4" r="1.95"/><circle cx="425.2" cy="338.4" r="1.95"/><circle cx="425.2" cy="340.2" r="1.95"/><circle cx="425.2" cy="342.8" r="1.95"/><circle cx="425.2" cy="345.3" r="1.95"/><circle cx="430.9" cy="313.4" r="1.95"/><circle cx="430.9" cy="316" r="1.95"/><circle cx="430.9" cy="318.6" r="1.95"/><circle cx="430.9" cy="324.7" r="1.95"/><circle cx="430.9" cy="334.1" r="1.95"/><circle cx="430.9" cy="340.2" r="1.95"/><circle cx="430.9" cy="342.8" r="1.95"/><circle cx="430.9" cy="345.3" r="1.95"/><circle cx="435.5" cy="316" r="1.95"/><circle cx="435.5" cy="317.8" r="1.95"/><circle cx="435.5" cy="322.9" r="1.95"/><circle cx="435.5" cy="327.2" r="1.95"/><circle cx="435.5" cy="339.3" r="1.95"/><circle cx="435.5" cy="342.8" r="1.95"/><circle cx="438.1" cy="320.3" r="1.95"/><circle cx="438.1" cy="336.4" r="1.95"/><circle cx="438.1" cy="346.2" r="1.95"/><circle cx="435.9" cy="290.2" r="1.95"/><circle cx="435.9" cy="297.1" r="1.95"/><circle cx="438.4" cy="301.9" r="1.95"/><circle cx="445.3" cy="301.4" r="1.95"/><circle cx="448.4" cy="297.1" r="1.95"/><circle cx="452.2" cy="290.2" r="1.95"/><circle cx="456.6" cy="287.1" r="1.95"/><circle cx="458.3" cy="293.6" r="1.95"/><circle cx="452.2" cy="298.8" r="1.95"/><circle cx="454.8" cy="297.9" r="1.95"/><circle cx="467.8" cy="299.7" r="1.95"/><circle cx="470.3" cy="297.1" r="1.95"/><circle cx="473.8" cy="301.4" r="1.95"/><circle cx="473.8" cy="287.1" r="1.95"/><circle cx="466" cy="305.7" r="1.95"/><circle cx="466.9" cy="307.4" r="1.95"/><circle cx="457.4" cy="310" r="1.95"/><circle cx="455.3" cy="312.6" r="1.95"/><circle cx="457.4" cy="314.7" r="1.95"/><circle cx="448.8" cy="312.6" r="1.95"/><circle cx="450.5" cy="312.6" r="1.95"/><circle cx="475.5" cy="310.5" r="1.95"/><circle cx="474.3" cy="313.4" r="1.95"/><circle cx="470.3" cy="314.7" r="1.95"/><circle cx="435" cy="316" r="1.95"/><circle cx="435.9" cy="318.6" r="1.95"/><circle cx="438.4" cy="320.3" r="1.95"/><circle cx="441.9" cy="320.3" r="1.95"/><circle cx="445.3" cy="320.3" r="1.95"/><circle cx="447.9" cy="321.2" r="1.95"/><circle cx="459.1" cy="318.6" r="1.95"/><circle cx="460.9" cy="320.3" r="1.95"/><circle cx="465.7" cy="319.5" r="1.95"/><circle cx="457.4" cy="321.2" r="1.95"/><circle cx="468.6" cy="322.1" r="1.95"/><circle cx="476" cy="320.3" r="1.95"/><circle cx="435.9" cy="323.8" r="1.95"/><circle cx="446.2" cy="323.8" r="1.95"/><circle cx="449.7" cy="324.7" r="1.95"/><circle cx="454" cy="323.8" r="1.95"/><circle cx="456.6" cy="325.5" r="1.95"/><circle cx="461.7" cy="323.8" r="1.95"/><circle cx="465.2" cy="323.8" r="1.95"/><circle cx="474.7" cy="325.5" r="1.95"/><circle cx="447.1" cy="328.1" r="1.95"/><circle cx="452.2" cy="327.2" r="1.95"/><circle cx="455.3" cy="327.2" r="1.95"/><circle cx="462.6" cy="328.1" r="1.95"/><circle cx="463.4" cy="330.2" r="1.95"/><circle cx="451.4" cy="330.7" r="1.95"/><circle cx="454" cy="332.4" r="1.95"/><circle cx="459.1" cy="333.3" r="1.95"/><circle cx="461.7" cy="334.1" r="1.95"/><circle cx="438.4" cy="336.4" r="1.95"/><circle cx="445.3" cy="337.6" r="1.95"/><circle cx="451.4" cy="336.4" r="1.95"/><circle cx="454.8" cy="336.7" r="1.95"/><circle cx="451.4" cy="341.9" r="1.95"/><circle cx="466.9" cy="342.2" r="1.95"/><circle cx="438.4" cy="345.7" r="1.95"/><circle cx="445.3" cy="344.5" r="1.95"/><circle cx="447.4" cy="346.7" r="1.95"/><circle cx="454" cy="347.1" r="1.95"/><circle cx="460.9" cy="345" r="1.95"/><circle cx="469.5" cy="345.7" r="1.95"/><circle cx="523.2" cy="302.6" r="1.95"/><circle cx="475.9" cy="310.6" r="1.95"/><circle cx="476.5" cy="319.9" r="1.95"/><circle cx="475.9" cy="324.9" r="1.95"/><circle cx="476.5" cy="269.7" r="1.95"/><circle cx="479.85" cy="269.7" r="1.95"/><circle cx="483.2" cy="269.7" r="1.95"/><circle cx="486.55" cy="269.7" r="1.95"/><circle cx="489.9" cy="269.7" r="1.95"/><circle cx="493.25" cy="269.7" r="1.95"/><circle cx="496.6" cy="269.7" r="1.95"/><circle cx="499.95" cy="269.7" r="1.95"/><circle cx="503.3" cy="269.7" r="1.95"/><circle cx="506.65" cy="269.7" r="1.95"/><circle cx="510" cy="269.7" r="1.95"/><circle cx="513.35" cy="269.7" r="1.95"/><circle cx="497" cy="266.8" r="1.95"/><circle cx="492.4" cy="272" r="1.95"/><circle cx="309.2" cy="245.9" r="1.95"/><circle cx="309.2" cy="259.1" r="1.95"/><circle cx="309.2" cy="261.3" r="1.95"/><circle cx="309.2" cy="263.5" r="1.95"/><circle cx="309.2" cy="265.6" r="1.95"/><circle cx="309.2" cy="269.7" r="1.95"/><circle cx="309.2" cy="271.9" r="1.95"/><circle cx="309.2" cy="273.8" r="1.95"/><circle cx="309.2" cy="280.9" r="1.95"/><circle cx="309.2" cy="287.2" r="1.95"/><circle cx="309.2" cy="292.4" r="1.95"/><circle cx="309.2" cy="295.4" r="1.95"/><circle cx="309.2" cy="298.1" r="1.95"/><circle cx="309.2" cy="300.9" r="1.95"/><circle cx="309.2" cy="303.6" r="1.95"/><circle cx="309.2" cy="306.3" r="1.95"/><circle cx="309.2" cy="308.9" r="1.95"/><circle cx="309.2" cy="311.6" r="1.95"/><circle cx="309.2" cy="312.81" r="1.95"/><circle cx="309.2" cy="314.02" r="1.95"/><circle cx="309.2" cy="315.23" r="1.95"/><circle cx="309.2" cy="316.44" r="1.95"/><circle cx="309.2" cy="317.65" r="1.95"/><circle cx="309.2" cy="318.86" r="1.95"/><circle cx="309.2" cy="320.07" r="1.95"/><circle cx="309.2" cy="321.28" r="1.95"/><circle cx="309.2" cy="322.49" r="1.95"/><circle cx="309.2" cy="323.7" r="1.95"/><circle cx="309.2" cy="324.91" r="1.95"/><circle cx="309.2" cy="326.12" r="1.95"/><circle cx="309.2" cy="327.33" r="1.95"/><circle cx="309.2" cy="328.54" r="1.95"/><circle cx="309.2" cy="329.75" r="1.95"/><circle cx="309.2" cy="330.95" r="1.95"/><circle cx="309.2" cy="332.16" r="1.95"/><circle cx="309.2" cy="333.37" r="1.95"/><circle cx="309.2" cy="334.58" r="1.95"/><circle cx="309.2" cy="335.79" r="1.95"/><circle cx="309.2" cy="337" r="1.95"/><circle cx="309.2" cy="338.21" r="1.95"/><circle cx="309.2" cy="339.42" r="1.95"/><circle cx="309.2" cy="340.63" r="1.95"/><circle cx="309.2" cy="341.84" r="1.95"/><circle cx="309.2" cy="343.05" r="1.95"/><circle cx="309.2" cy="344.26" r="1.95"/><circle cx="309.2" cy="345.47" r="1.95"/><circle cx="309.2" cy="346.68" r="1.95"/><circle cx="309.2" cy="347.89" r="1.95"/><circle cx="309.2" cy="349.1" r="1.95"/></g>
<text x="309" y="360.2" text-anchor="middle" font-size="9" fill="#262626" stroke="#262626" stroke-width="0.16">0</text>
<text x="342.46" y="360.2" text-anchor="middle" font-size="9" fill="#262626" stroke="#262626" stroke-width="0.16">1</text>
<text x="375.91" y="360.2" text-anchor="middle" font-size="9" fill="#262626" stroke="#262626" stroke-width="0.16">2</text>
<text x="409.37" y="360.2" text-anchor="middle" font-size="9" fill="#262626" stroke="#262626" stroke-width="0.16">3</text>
<text x="442.83" y="360.2" text-anchor="middle" font-size="9" fill="#262626" stroke="#262626" stroke-width="0.16">4</text>
<text x="476.29" y="360.2" text-anchor="middle" font-size="9" fill="#262626" stroke="#262626" stroke-width="0.16">5</text>
<text x="509.74" y="360.2" text-anchor="middle" font-size="9" fill="#262626" stroke="#262626" stroke-width="0.16">6</text>
<text x="543.2" y="360.2" text-anchor="middle" font-size="9" fill="#262626" stroke="#262626" stroke-width="0.16">7</text>
<text x="306.6" y="352.4" text-anchor="end" font-size="9" fill="#262626" stroke="#262626" stroke-width="0.16">0</text>
<text x="306.6" y="321.68" text-anchor="end" font-size="9" fill="#262626" stroke="#262626" stroke-width="0.16">0.2</text>
<text x="306.6" y="290.96" text-anchor="end" font-size="9" fill="#262626" stroke="#262626" stroke-width="0.16">0.4</text>
<text x="306.6" y="260.24" text-anchor="end" font-size="9" fill="#262626" stroke="#262626" stroke-width="0.16">0.6</text>
<text x="306.6" y="229.52" text-anchor="end" font-size="9" fill="#262626" stroke="#262626" stroke-width="0.16">0.8</text>
<text x="306.6" y="198.8" text-anchor="end" font-size="9" fill="#262626" stroke="#262626" stroke-width="0.16">1</text>
<text x="426.4" y="370.2" text-anchor="middle" font-size="9" fill="#262626" stroke="#262626" stroke-width="0.16" textLength="77.5" lengthAdjust="spacingAndGlyphs">log10P-N (Observed)</text>
<text x="0" y="0" text-anchor="middle" font-size="9" fill="#262626" stroke="#262626" stroke-width="0.16" textLength="109" lengthAdjust="spacingAndGlyphs" transform="translate(291.9 271.5) rotate(-90)">SVM NB/B model probability</text>
<text x="513.4" y="222.2" text-anchor="start" font-size="9" fill="#262626" stroke="#262626" stroke-width="0.16" textLength="23.4" lengthAdjust="spacingAndGlyphs">r = 0.4</text>
<text x="532" y="371.3" text-anchor="start" font-size="9" fill="#262626" stroke="#262626" stroke-width="0.16" textLength="7.6" lengthAdjust="spacingAndGlyphs">d)</text>
</svg>
</body></html>
